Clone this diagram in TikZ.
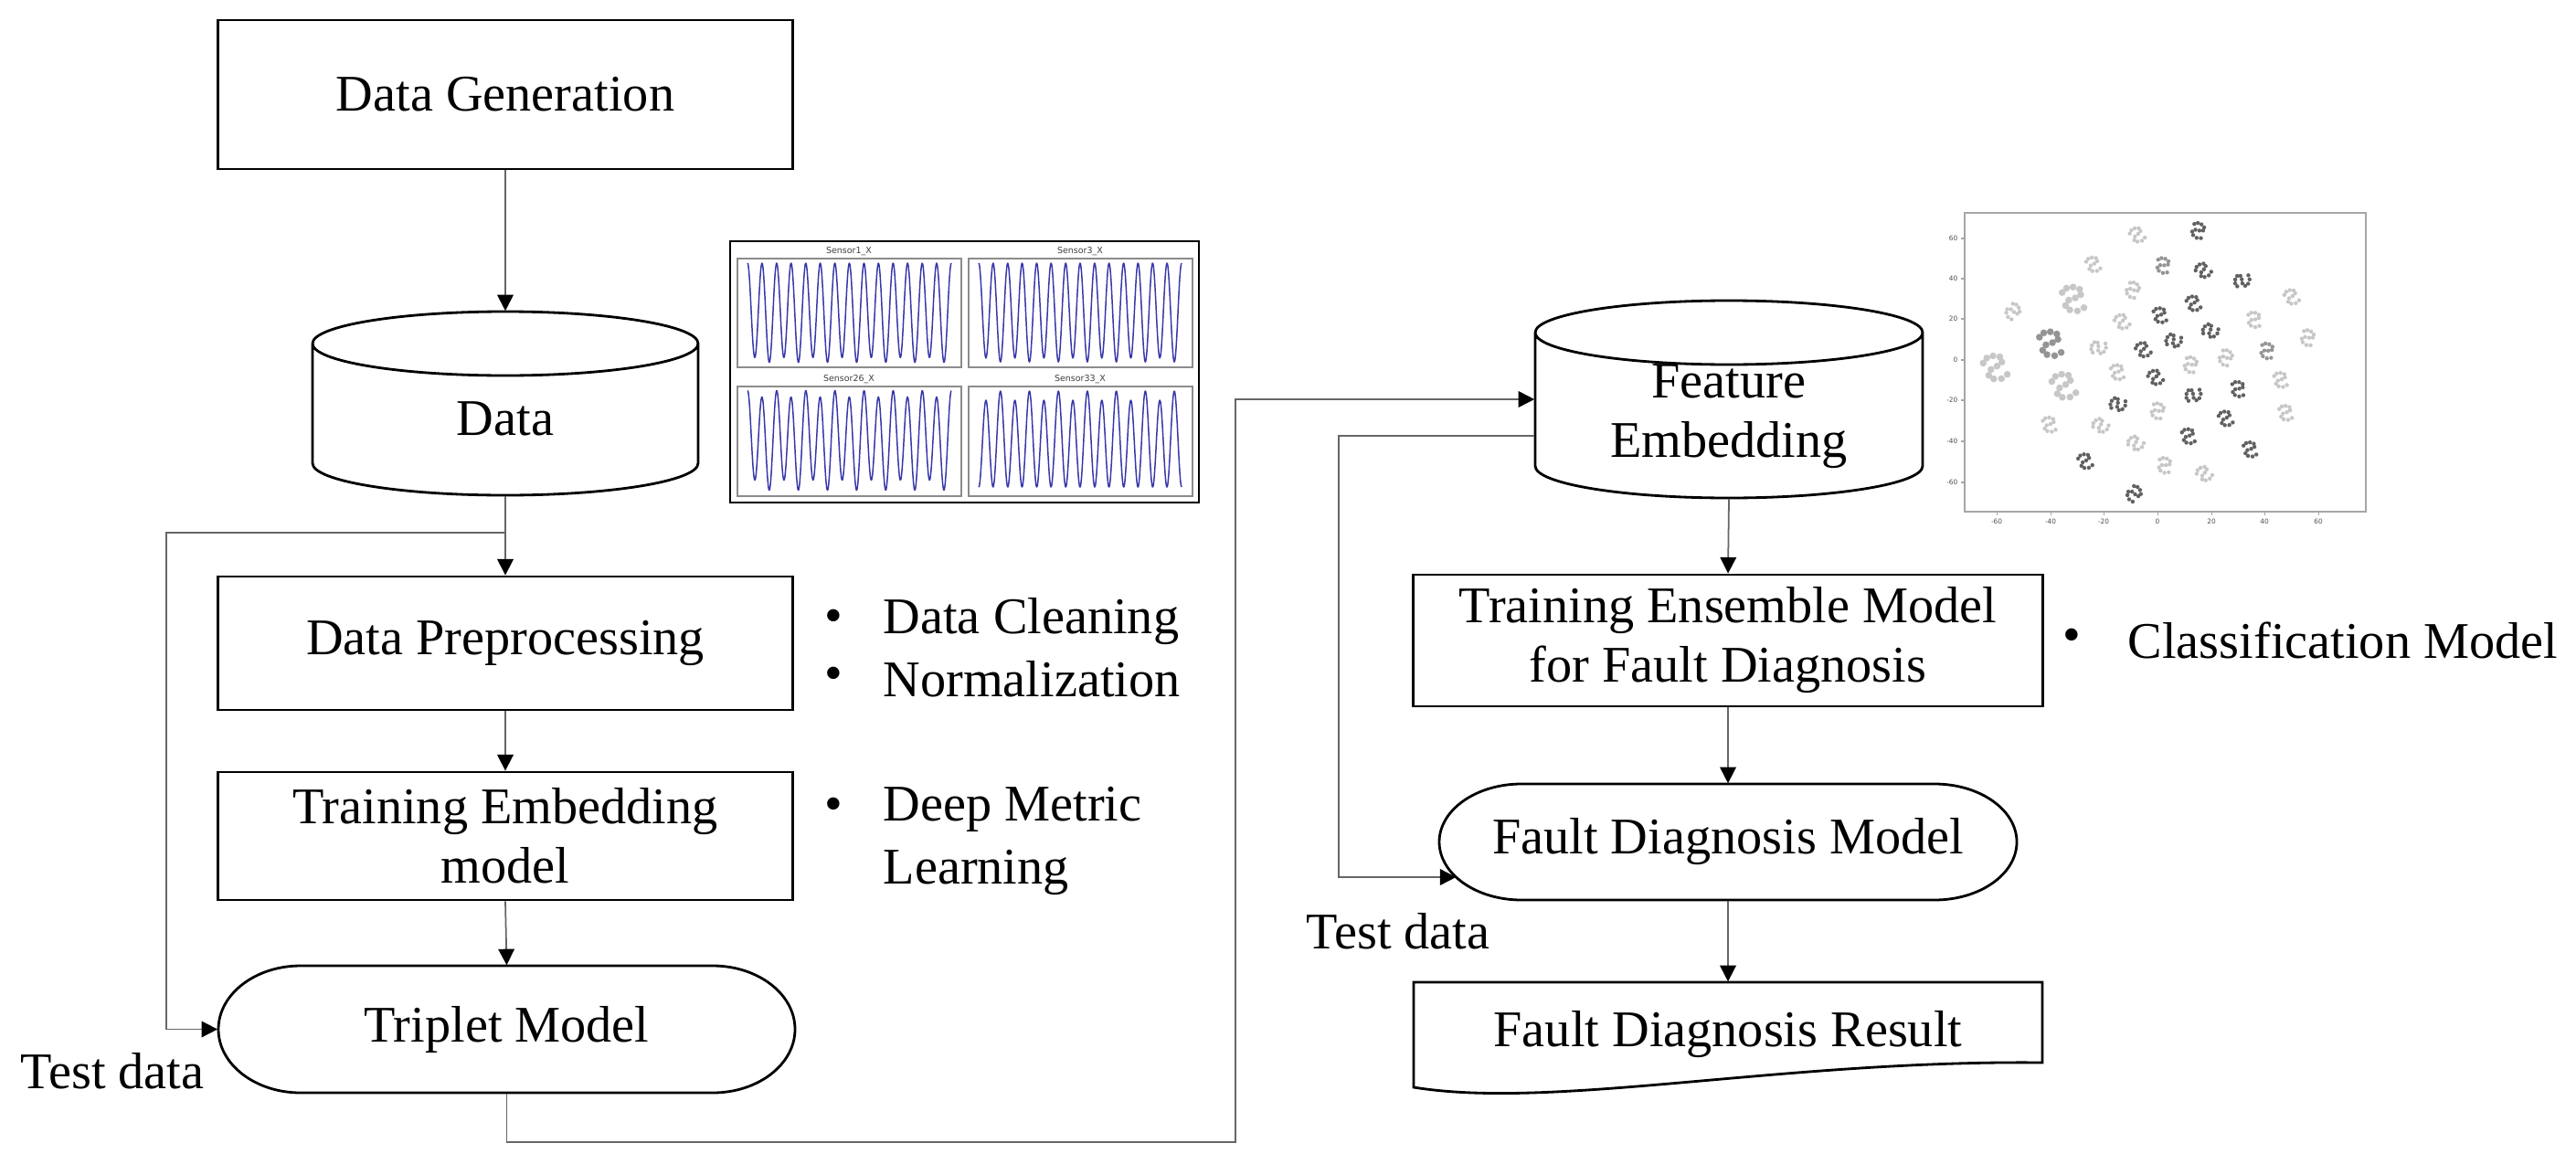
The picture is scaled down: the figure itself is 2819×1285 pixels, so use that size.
\documentclass[tikz,border=0pt]{standalone}
\usepackage{fontspec}
\setmainfont{Liberation Serif}
\newfontfamily\plotfont{DejaVu Sans}
\usetikzlibrary{arrows.meta}
\colorlet{clL}{black!22}
\colorlet{clM}{black!42}
\colorlet{clD}{black!62}
\definecolor{wavecol}{RGB}{55,55,170}
\begin{document}
\begin{tikzpicture}[x=0.01cm,y=0.01cm,
  every node/.style={font=\fontsize{16}{18.5}\selectfont, inner sep=0pt},
  box/.style={draw, line width=0.8pt, align=center},
  shp/.style={draw, line width=0.8pt},
  conn/.style={draw=black!60, line width=0.5pt, -{Triangle[length=5pt,width=5pt,color=black]}},
  wave/.style={draw=wavecol, line width=0.42pt, line join=round},
  panel/.style={draw=black!45, line width=0.35pt},
  ptitle/.style={font=\plotfont\fontsize{2.7}{3}\selectfont, text=black!75},
  tick/.style={font=\plotfont\fontsize{2.1}{2.5}\selectfont, text=black!70},
  spine/.style={draw=black!35, line width=0.5pt},
  bul/.style={anchor=center},
  btxt/.style={anchor=west}
]
\useasboundingbox (0,0) rectangle (2819,-1285);

% ---------------- left column ----------------
\node[box, minimum width=6.28cm, minimum height=1.63cm] (gen) at (553,-103.5) {Data Generation};

% Data cylinder
\draw[shp] (342,-376) -- (342,-507) arc[start angle=180,end angle=360,x radius=211,y radius=35]
  -- (764,-376) arc[start angle=0,end angle=180,x radius=211,y radius=35]
  arc[start angle=180,end angle=360,x radius=211,y radius=35];
\node[minimum width=4.22cm, minimum height=2.01cm] (data) at (553,-441.5) {};
\node (datat) at (553,-458) {Data};

\node[box, minimum width=6.28cm, minimum height=1.46cm] (pre) at (553,-704) {Data Preprocessing};
\node[box, minimum width=6.28cm, minimum height=1.40cm] (emb) at (553,-915) {Training Embedding\\model};

% Triplet model (terminal)
\draw[shp] (329,-1057) -- (780,-1057) arc[start angle=90,end angle=-90,x radius=90,y radius=69.5]
  -- (329,-1196) arc[start angle=270,end angle=90,x radius=90,y radius=69.5] -- cycle;
\node[minimum width=6.31cm, minimum height=1.39cm] (trip) at (554.5,-1126.5) {Triplet Model};

\node[btxt] (td1) at (22,-1172) {Test data};

% bullets left
\node[bul] (bl1) at (912,-680) {•};
\node[btxt] (bt1) at (966,-680) {Data Cleaning};
\node[bul] (bl2) at (912,-743) {•};
\node[btxt] (bt2) at (966,-743) {Normalization};
\node[bul] (bl3) at (912,-886) {•};
\node[btxt] (bt3) at (966,-886) {Deep Metric};
\node[btxt] (bt4) at (966,-955) {Learning};

% ---------------- sensor plot ----------------
\draw[line width=0.8pt, fill=white] (799,-264) rectangle (1312,-550);
\draw[panel] (807,-283) rectangle (1052,-402);
\draw[panel] (1060,-283) rectangle (1305,-402);
\draw[panel] (807,-423) rectangle (1052,-543);
\draw[panel] (1060,-423) rectangle (1305,-543);
\node[ptitle] (s1) at (929,-275) {Sensor1\_X};
\node[ptitle] (s3) at (1182,-275) {Sensor3\_X};
\node[ptitle] (s26) at (929,-415) {Sensor26\_X};
\node[ptitle] (s33) at (1182,-415) {Sensor33\_X};
\draw[wave] plot[domain=0:14, samples=421, variable=\t] ({818+\t*223/14}, {-341+53*(cos(360*\t)+0.05*sin(180*\t))});
\draw[wave] plot[domain=0:14, samples=421, variable=\t] ({1071+\t*222/14}, {-341+53*(cos(360*\t)+0.04*sin(180*\t))});
\draw[wave] plot[domain=0:14, samples=421, variable=\t] ({818+\t*223/14}, {-481+50*(cos(360*\t)+0.07*cos(180*\t)+0.11*sin(180*\t))});
\draw[wave] plot[domain=0:14, samples=421, variable=\t] ({1071+\t*222/14}, {-483+50*(-cos(360*\t)-0.1*sin(180*\t))});

% ---------------- right column ----------------
% Feature embedding cylinder
\draw[shp] (1680,-364) -- (1680,-510) arc[start angle=180,end angle=360,x radius=212,y radius=35]
  -- (2104,-364) arc[start angle=0,end angle=180,x radius=212,y radius=35]
  arc[start angle=180,end angle=360,x radius=212,y radius=35];
\node[minimum width=4.24cm, minimum height=2.16cm] (fe) at (1892,-437) {};
\node[align=center] (fet) at (1892,-456) {Feature\\Embedding};

\node[box, minimum width=6.88cm, minimum height=1.44cm] (ens) at (1891,-701) {Training Ensemble Model\\for Fault Diagnosis};

% Fault diagnosis model (terminal)
\draw[shp] (1665,-858) -- (2117,-858) arc[start angle=90,end angle=-90,x radius=90,y radius=63.5]
  -- (1665,-985) arc[start angle=270,end angle=90,x radius=90,y radius=63.5] -- cycle;
\node[minimum width=6.32cm, minimum height=1.27cm] (fdm) at (1891,-921.5) {Fault Diagnosis Model};
\coordinate (fdmin) at (1593.4,-960);

% Fault diagnosis result (document)
\draw[shp] (1547,-1075) -- (2235,-1075) -- (2235,-1163)
  .. controls (1950,-1160) and (1700,-1215) .. (1547,-1190) -- cycle;
\node[minimum width=6.88cm, minimum height=1.15cm] (fdr) at (1891,-1132.5) {Fault Diagnosis Result};

\node[btxt] (td2) at (1429,-1019) {Test data};

\node[bul] (br1) at (2267,-701) {•};
\node[btxt] (brt1) at (2328,-701) {Classification Model};

% ---------------- t-SNE scatter ----------------
\draw[spine, fill=white] (2150,-233) rectangle (2589,-560);
\foreach \v/\p in {-60/2185,-40/2244,-20/2302,0/2361,20/2420,40/2478,60/2537}{
  \draw[spine, line width=0.3pt] (\p,-560) -- (\p,-564);
  \node[tick] at (\p,-571) {\v};
}
\foreach \v/\p in {60/261,40/305,20/349,0/394,-20/438,-40/483,-60/528}{
  \draw[spine, line width=0.3pt] (2150,-\p) -- (2146,-\p);
  \node[tick, anchor=east] at (2143,-\p) {\v};
}
\foreach \x/\y/\c/\r/\s in {
-7.6/61.5/L/20/1, 15.1/63.7/D/-30/1, -24/47/L/10/1, 2/46.5/M/-20/1, 17/44/D/30/1,
31.6/39/D/80/1, 50/31/L/15/1, -31.5/30/L/0/1.7, -9.3/34.5/L/-40/1, 13.4/27.8/D/10/1,
0.9/22/D/0/1, -54/24/L/-60/1, -13.3/18.8/L/20/1, 36/19.8/L/-10/1, 19.7/14.3/D/50/1,
56/11/L/-30/1, -40/8/M/0/1.7, -22/6/L/70/1, 6/9.5/D/60/1, -5.4/5/D/20/1,
40.8/4.5/M/-20/1, 25.4/1.2/L/-40/1, 12.3/-2.3/L/-30/1, -60.6/-3.75/L/10/1.7, -15/-6/L/0/1,
-0.8/-8.6/D/20/1, 45.9/-9.8/L/0/1, -35/-12.8/L/10/1.7, 30/-14.3/D/-10/1, 13.4/-17.3/D/80/1,
-14.8/-21.8/D/60/1, 47.8/-26/L/0/1, 0/-25/L/-30/1, 25.4/-28.8/D/10/1, -40.4/-31.8/L/0/1,
-21.3/-32.3/L/40/1, 11.5/-37.5/D/0/1, -8.2/-41/L/40/1, 34.5/-44/D/0/1, -27/-49.8/D/10/1,
2.6/-51.8/L/-20/1, 17.4/-56/L/30/1, -8.8/-65.7/D/-60/1}{
  \pgfmathsetmacro\px{2185+(\x+60)*2.933}
  \pgfmathsetmacro\py{-394+\y*2.225}
  \pgfmathsetmacro\sc{1.4*\s}
  \begin{scope}[shift={(\px,\py)}, rotate=\r, scale=\sc]
    \foreach \a/\b in {5/-4, 2/-5.5, -1.5/-5, -3.5/-3, -2/-0.5, 1/0.5, 3.5/2, 3/4.5, 0/5.5, -3/5, -5/3}
      \fill[cl\c] (\a,\b) circle[radius=0.45pt];
  \end{scope}
}

% ---------------- connectors ----------------
\draw[conn] (gen.south) -- (data.north);
\draw[conn] (data.south) -- (pre.north);
\coordinate (lx) at (182,-583);
\draw[conn] (data.south |- lx) -- (lx) |- (trip.west);
\draw[conn] (pre.south) -- (emb.north);
\draw[conn] (emb.south) -- (trip.north);
\coordinate (tb) at (1352,-1250);
\draw[conn] (trip.south) |- (tb) |- (fe.west);
\coordinate (rx) at (1465,-477);
\draw[conn] (fe.west |- rx) -- (rx) |- (fdmin);
\draw[conn] (fe.south) -- (ens.north);
\draw[conn] (ens.south) -- (fdm.north);
\draw[conn] (fdm.south) -- (fdr.north);
\end{tikzpicture}
\end{document}
